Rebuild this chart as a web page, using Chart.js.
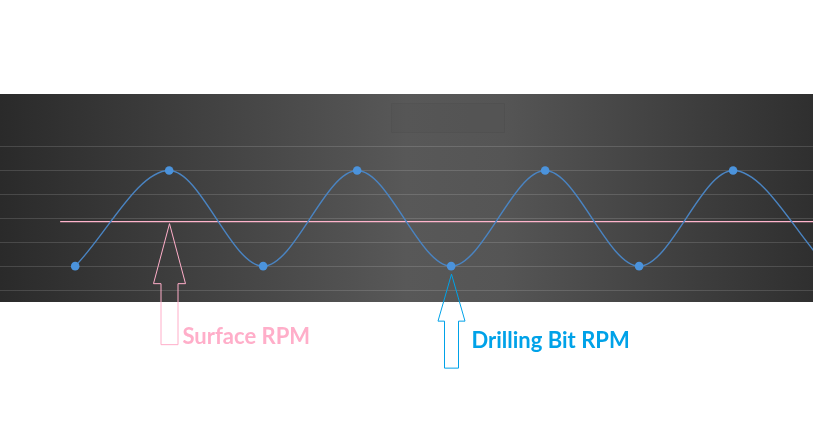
<!DOCTYPE html>
<html>
<head>
<meta charset="utf-8">
<script src="https://cdn.jsdelivr.net/npm/chart.js@4.4.1/dist/chart.umd.min.js"></script>
<style>
  html, body { margin: 0; padding: 0; background: #ffffff; }
  #wrap { width: 813px; height: 427px; position: relative; }
</style>
</head>
<body>
<div id="wrap"><canvas id="rpmChart"></canvas></div>
<script>
// sample positions along the x axis
var samples = [0, 1, 2, 3, 4, 5, 6, 7, 8];
// drilling bit rpm, swings between low and high
var bitRpm = [40, 80, 40, 80, 40, 80, 40, 80, 40];
// surface rpm, flat line
var surfaceX = [-0.16, 8];
var surfaceRpm = [58.6, 58.6];
// grid values shown on the y axis
var yTicks = [30, 40, 50, 60, 70, 80, 90];

var bitPoints = [];
for (var i = 0; i < samples.length; i++) {
    bitPoints.push({x: samples[i], y: bitRpm[i]});
}
var surfacePoints = [];
for (var j = 0; j < surfaceX.length; j++) {
    surfacePoints.push({x: surfaceX[j], y: surfaceRpm[j]});
}

// dark gradient behind the plot area
var backdrop = {
    id: 'backdrop',
    beforeDraw: function(chart) {
        var ctx = chart.ctx;
        var a = chart.chartArea;
        var g = ctx.createLinearGradient(a.left, 0, a.right, 0);
        g.addColorStop(0, '#2a2a2a');
        g.addColorStop(0.5, '#585858');
        g.addColorStop(0.62, '#555555');
        g.addColorStop(1, '#2f2f2f');
        ctx.save();
        ctx.fillStyle = g;
        ctx.fillRect(a.left, a.top, a.right - a.left, a.bottom - a.top);
        // faint empty legend box
        ctx.strokeStyle = 'rgba(0,0,0,0.04)';
        ctx.fillStyle = 'rgba(0,0,0,0.012)';
        ctx.lineWidth = 1;
        ctx.fillRect(391.5, 103.5, 113, 29);
        ctx.strokeRect(391.5, 103.5, 113, 29);
        ctx.restore();
    }
};

function drawArrow(ctx, x, tipY, headLen, headHalf, shaftHalf, total, color) {
    ctx.save();
    ctx.strokeStyle = color;
    ctx.lineWidth = 1;
    ctx.beginPath();
    ctx.moveTo(x, tipY);
    ctx.lineTo(x + headHalf, tipY + headLen);
    ctx.lineTo(x + shaftHalf, tipY + headLen);
    ctx.lineTo(x + shaftHalf, tipY + total);
    ctx.lineTo(x - shaftHalf, tipY + total);
    ctx.lineTo(x - shaftHalf, tipY + headLen);
    ctx.lineTo(x - headHalf, tipY + headLen);
    ctx.closePath();
    ctx.stroke();
    ctx.restore();
}

// hand drawn arrows and labels under the chart
var callouts = {
    id: 'callouts',
    afterDraw: function(chart) {
        var ctx = chart.ctx;
        var xs = chart.scales.x;
        var ys = chart.scales.y;

        var sx = Math.round(xs.getPixelForValue(samples[1])) + 0.5;
        var sy = ys.getPixelForValue(surfaceRpm[0]) + 2;
        drawArrow(ctx, sx, sy, 60, 16, 8.5, 121, '#ffaec9');

        var bx = Math.round(xs.getPixelForValue(samples[4])) + 0.5;
        var by = ys.getPixelForValue(bitRpm[4]) + 8;
        drawArrow(ctx, bx, by, 47, 13.5, 7, 94, '#00a2e8');

        ctx.save();
        ctx.font = 'bold 22px Lato, "Open Sans", sans-serif';
        ctx.textBaseline = 'alphabetic';
        ctx.textAlign = 'left';
        ctx.fillStyle = '#ffaec9';
        ctx.fillText('Surface RPM', sx + 13, sy + 120);
        ctx.fillStyle = '#00a2e8';
        ctx.fillText('Drilling Bit RPM', bx + 20, by + 74);
        ctx.restore();
    }
};

var ctx = document.getElementById('rpmChart').getContext('2d');
var myChart = new Chart(ctx, {
    type: 'line',
    data: {
        datasets: [{
            label: 'Drilling Bit RPM',
            data: bitPoints,
            borderColor: '#4a84c2',
            borderWidth: 1.4,
            backgroundColor: '#4b93dc',
            pointBackgroundColor: '#4b93dc',
            pointBorderColor: '#4b93dc',
            pointRadius: 4.3,
            pointBorderWidth: 0,
            cubicInterpolationMode: 'monotone',
            fill: false
        }, {
            label: 'Surface RPM',
            data: surfacePoints,
            borderColor: '#ffb4cc',
            borderWidth: 1.3,
            pointRadius: 0,
            fill: false
        }]
    },
    options: {
        responsive: true,
        maintainAspectRatio: false,
        animation: false,
        layout: { autoPadding: false, padding: { top: 94, bottom: 125, left: 0, right: 0 } },
        plugins: {
            legend: { display: false },
            title: { display: false },
            tooltip: { enabled: false }
        },
        scales: {
            x: {
                type: 'linear',
                min: -0.8,
                max: 7.85,
                display: false
            },
            y: {
                min: 25,
                max: 112,
                afterBuildTicks: function(axis) {
                    axis.ticks = yTicks.map(function(v) { return {value: v}; });
                },
                ticks: { display: false },
                border: { display: false },
                grid: {
                    color: 'rgba(255,255,255,0.14)',
                    lineWidth: 1,
                    drawTicks: false
                }
            }
        }
    },
    plugins: [backdrop, callouts]
});
</script>
</body>
</html>
